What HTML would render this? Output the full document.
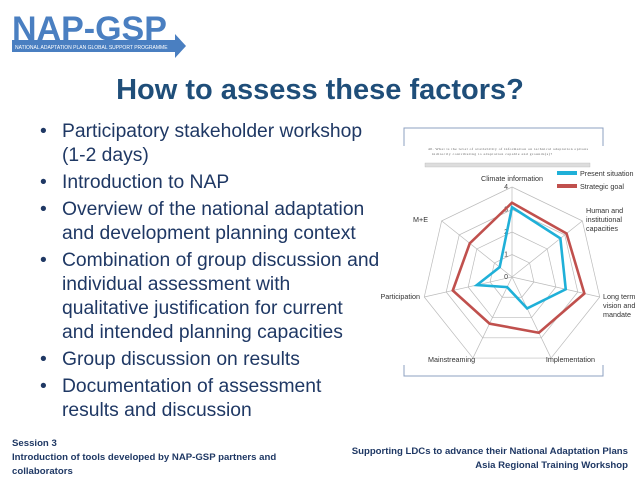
<!DOCTYPE html>
<html><head><meta charset="utf-8"><style>
body{margin:0;width:638px;height:478px;overflow:hidden;background:#fff;font-family:"Liberation Sans",sans-serif;position:relative}
.abs{position:absolute}
#title{left:0;width:640px;top:74px;text-align:center;font-size:29px;font-weight:bold;color:#1f4e79}
ul{position:absolute;left:40px;top:120px;margin:0;padding:0;list-style:none;font-size:19.3px;color:#1f3864;line-height:23.8px;width:360px}
li{position:relative;padding-left:22px;margin-bottom:3.5px}
li:before{content:"•";position:absolute;left:0}
.foot{font-size:9.6px;font-weight:bold;color:#1f3864;line-height:14px}
</style></head><body>
<svg class="abs" style="left:0;top:0" width="200" height="62">
<polygon points="12,40 175,40 175,34 186,46 175,58 175,52 12,52" fill="#4a7fc1"/>
<text x="12" y="40" font-size="34" font-weight="bold" fill="#4a7fc1" font-family="Liberation Sans">NAP-GSP</text>
<text x="15" y="49" font-size="5" fill="#fff" font-family="Liberation Sans">NATIONAL ADAPTATION PLAN GLOBAL SUPPORT PROGRAMME</text>
</svg>
<div id="title" class="abs">How to assess these factors?</div>
<ul>
<li>Participatory stakeholder workshop<br>(1-2 days)</li>
<li>Introduction to NAP</li>
<li>Overview of the national adaptation<br>and development planning context</li>
<li>Combination of group discussion and<br>individual assessment with<br>qualitative justification for current<br>and intended planning capacities</li>
<li>Group discussion on results</li>
<li>Documentation of assessment<br>results and discussion</li>
</ul>
<div class="abs foot" style="left:12px;top:437px">Session 3<br>Introduction of tools developed by NAP-GSP partners and<br>collaborators</div>
<div class="abs foot" style="right:10px;top:445px;text-align:right">Supporting LDCs to advance their National Adaptation Plans<br>Asia Regional Training Workshop</div>
<svg id="chart" class="abs" style="left:0;top:0" width="638" height="478"></svg>
<script>
const categories=["Climate information","Human and institutional capacities","Long term vision and mandate","Implementation","Mainstreaming","Participation","M+E"];
const presentValues=[3.1,2.75,2.45,1.55,0.5,1.6,0.7];
const goalValues=[3.3,3.1,3.3,2.75,2.3,2.7,2.4];
const tickLabels=[0,1,2,3,4];
const svg=document.getElementById('chart');const NS='http://www.w3.org/2000/svg';
const cx=512,cy=277,R=90,maxV=4;
function pt(i,v){const a=i*2*Math.PI/categories.length;const r=v/maxV*R;return [cx+r*Math.sin(a),cy-r*Math.cos(a)];}
function mk(t,at){const e=document.createElementNS(NS,t);for(const k in at)e.setAttribute(k,at[k]);svg.appendChild(e);return e;}
let fr=mk('path',{d:'M404,146 L404,128 L603,128 L603,146 M404,365 L404,376 L603,376 L603,365',fill:'none',stroke:'#8da0c0','stroke-width':1});

let q=mk('text',{x:428,y:150,'font-size':3.5,fill:'#555','font-family':'Liberation Serif',textLength:160});q.textContent='40. What is the level of availability of information on technical adaptation options';

let q2=mk('text',{x:432,y:155,'font-size':3.5,fill:'#555','font-family':'Liberation Serif',textLength:120});q2.textContent='indirectly contributing to adaptation capable and grounds(s)?';

let sc=mk('rect',{x:425,y:163,width:165,height:4,fill:'#ddd',stroke:'#aaa','stroke-width':0.3});

for(let v=1;v<=4;v++){const p=categories.map((c,i)=>pt(i,v).join(',')).join(' ');
 const g=mk('polygon',{points:p,fill:'none',stroke:'#bbb','stroke-width':0.7});}
categories.forEach((c,i)=>{const p=pt(i,maxV);const l=mk('line',{x1:cx,y1:cy,x2:p[0],y2:p[1],stroke:'#bbb','stroke-width':0.7});});
tickLabels.forEach(t=>{const p=pt(0,t);const e=mk('text',{x:p[0]-4,y:p[1]+2,'font-size':7,fill:'#444','text-anchor':'end'});e.textContent=t;});
function series(vals,col,name){const p=vals.map((v,i)=>pt(i,v).join(',')).join(' ');const e=mk('polygon',{points:p,fill:'none',stroke:col,'stroke-width':2.6,'stroke-linejoin':'miter'});}
series(goalValues,'#c0504d','strategic-goal-series');
series(presentValues,'#1fb0d8','present-situation-series');
const lbl=[[512,181,'middle',['Climate information']],[586,213,'start',['Human and','institutional','capacities']],[603,299,'start',['Long term','vision and','mandate']],[595,362,'end',['Implementation']],[428,362,'start',['Mainstreaming']],[420,299,'end',['Participation']],[428,222,'end',['M+E']]];
lbl.forEach((L,i)=>{L[3].forEach((s,j)=>{const e=mk('text',{x:L[0],y:L[1]+j*9,'font-size':7.2,fill:'#333','text-anchor':L[2]});e.textContent=s;});});
[['#1fb0d8','Present situation',174],['#c0504d','Strategic goal',187]].forEach(l=>{const r=mk('rect',{x:557,y:l[2]-3,width:20,height:4,fill:l[0]});const t=mk('text',{x:580,y:l[2]+2,'font-size':7.2,fill:'#333'});t.textContent=l[1];});
</script>
</body></html>
